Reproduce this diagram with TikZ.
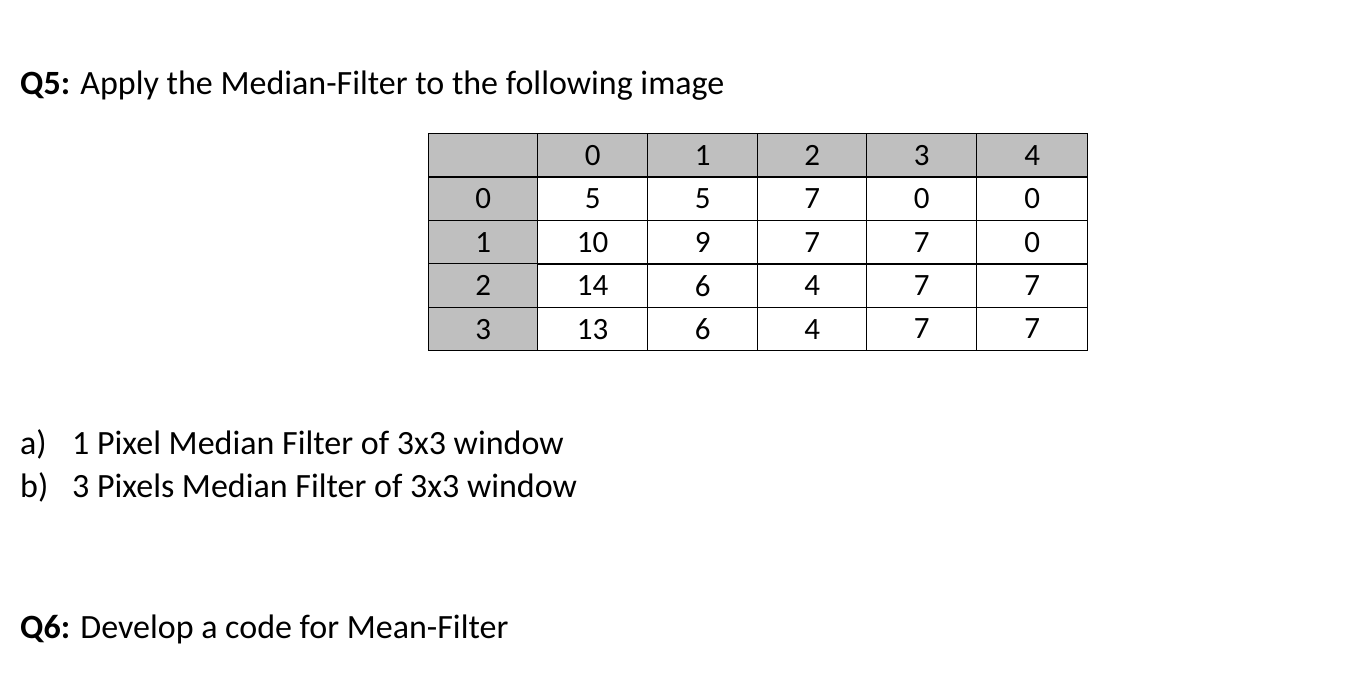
\documentclass[tikz,border=0pt]{standalone}
\usepackage{fontspec}
\setmainfont{Carlito}
\begin{document}
\begin{tikzpicture}[x=1pt,y=-1pt,
  txt/.style={anchor=base west,inner sep=0pt,font=\fontsize{34}{40}\selectfont},
  cell/.style={draw=black,line width=1.3pt,minimum width=#1,minimum height=43.6pt,inner sep=0pt,anchor=north west,font=\fontsize{31}{36}\selectfont},
  hdr/.style={fill=black!25}]
\useasboundingbox (0,0) rectangle (1371,700);
\node[txt] (q5) at (20,95) {\textbf{Q5:} Apply the Median-Filter to the following image};
\node[txt] (qa) at (20,454) {a)};
\node[txt] (qat) at (72,454) {1 Pixel Median Filter of 3x3 window};
\node[txt] (qb) at (20,497) {b)};
\node[txt] (qbt) at (72,497) {3 Pixels Median Filter of 3x3 window};
\node[txt] (q6) at (20,638) {\textbf{Q6:} Develop a code for Mean-Filter};
\def\xs{{428,537,647,757,866,976,1087}}
\foreach \r/\vals in {0/{,0,1,2,3,4},1/{0,5,5,7,0,0},2/{1,10,9,7,7,0},3/{2,14,6,4,7,7},4/{3,13,6,4,7,7}}{
  \foreach \v [count=\c from 0] in \vals {
    \pgfmathsetmacro{\xl}{\xs[\c]}
    \pgfmathsetmacro{\xr}{\xs[\c+1]}
    \pgfmathsetmacro{\w}{\xr-\xl}
    \pgfmathsetmacro{\yt}{133+43.4*\r}
    \ifnum\r=0 \def\st{hdr}\else\ifnum\c=0 \def\st{hdr}\else\def\st{}\fi\fi
    \node[cell=\w pt,\st] (c\r\c) at (\xl,\yt) {\v};
  }
}
\end{tikzpicture}
\end{document}
